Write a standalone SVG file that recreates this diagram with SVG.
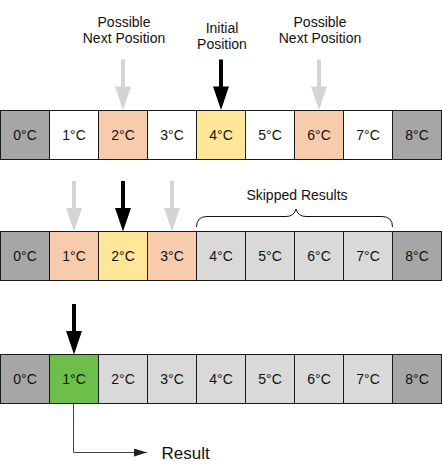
<svg xmlns="http://www.w3.org/2000/svg" width="442" height="466" viewBox="0 0 442 466">
<style>
  text { font-family: "Liberation Sans", Arial, sans-serif; fill: #111; }
  .lbl { font-size: 14px; text-anchor: middle; }
  .cellt { font-size: 14px; text-anchor: middle; }
  rect { stroke: #1a1a1a; stroke-width: 1; }
  .end { fill: #a6a6a6; }
  .wh { fill: #ffffff; }
  .pe { fill: #f8cbad; }
  .ye { fill: #ffe699; }
  .lg { fill: #d9d9d9; }
  .gr { fill: #6cc04a; }
  .garr { fill: #d4d4d4; }
  .barr { fill: #000; }
</style>
<defs>
  <path id="arr" d="M-2,0 H2 V27 H8 L0,50.5 L-8,27 H-2 Z"/>
  <marker id="tri" viewBox="0 0 13 8" refX="13" refY="4" markerWidth="13" markerHeight="8" markerUnits="userSpaceOnUse" orient="auto">
    <path d="M0,0 L13,4 L0,8 Z" fill="#222"/>
  </marker>
</defs>

<g id="labels">
  <text class="lbl" x="124" y="27">Possible</text>
  <text class="lbl" x="124" y="43">Next Position</text>
  <text class="lbl" x="222" y="33">Initial</text>
  <text class="lbl" x="222" y="49">Position</text>
  <text class="lbl" x="320" y="27">Possible</text>
  <text class="lbl" x="320" y="43">Next Position</text>
  <text class="lbl" x="297" y="199.5">Skipped Results</text>
</g>

<g id="row1">
  <g id="r1c0"><rect class="end" x="0.5" y="110.5" width="49" height="49"/><text class="cellt" x="25" y="139.5">0°C</text></g>
  <g id="r1c1"><rect class="wh" x="49.5" y="110.5" width="49" height="49"/><text class="cellt" x="74" y="139.5">1°C</text></g>
  <g id="r1c2"><rect class="pe" x="98.5" y="110.5" width="49" height="49"/><text class="cellt" x="123" y="139.5">2°C</text></g>
  <g id="r1c3"><rect class="wh" x="147.5" y="110.5" width="49" height="49"/><text class="cellt" x="172" y="139.5">3°C</text></g>
  <g id="r1c4"><rect class="ye" x="196.5" y="110.5" width="49" height="49"/><text class="cellt" x="221" y="139.5">4°C</text></g>
  <g id="r1c5"><rect class="wh" x="245.5" y="110.5" width="49" height="49"/><text class="cellt" x="270" y="139.5">5°C</text></g>
  <g id="r1c6"><rect class="pe" x="294.5" y="110.5" width="49" height="49"/><text class="cellt" x="319" y="139.5">6°C</text></g>
  <g id="r1c7"><rect class="wh" x="343.5" y="110.5" width="49" height="49"/><text class="cellt" x="368" y="139.5">7°C</text></g>
  <g id="r1c8"><rect class="end" x="392.5" y="110.5" width="49" height="49"/><text class="cellt" x="417" y="139.5">8°C</text></g>
</g>

<g id="row2">
  <g id="r2c0"><rect class="end" x="0.5" y="231.5" width="49" height="49"/><text class="cellt" x="25" y="261">0°C</text></g>
  <g id="r2c1"><rect class="pe" x="49.5" y="231.5" width="49" height="49"/><text class="cellt" x="74" y="261">1°C</text></g>
  <g id="r2c2"><rect class="ye" x="98.5" y="231.5" width="49" height="49"/><text class="cellt" x="123" y="261">2°C</text></g>
  <g id="r2c3"><rect class="pe" x="147.5" y="231.5" width="49" height="49"/><text class="cellt" x="172" y="261">3°C</text></g>
  <g id="r2c4"><rect class="lg" x="196.5" y="231.5" width="49" height="49"/><text class="cellt" x="221" y="261">4°C</text></g>
  <g id="r2c5"><rect class="lg" x="245.5" y="231.5" width="49" height="49"/><text class="cellt" x="270" y="261">5°C</text></g>
  <g id="r2c6"><rect class="lg" x="294.5" y="231.5" width="49" height="49"/><text class="cellt" x="319" y="261">6°C</text></g>
  <g id="r2c7"><rect class="lg" x="343.5" y="231.5" width="49" height="49"/><text class="cellt" x="368" y="261">7°C</text></g>
  <g id="r2c8"><rect class="end" x="392.5" y="231.5" width="49" height="49"/><text class="cellt" x="417" y="261">8°C</text></g>
</g>

<g id="row3">
  <g id="r3c0"><rect class="end" x="0.5" y="354.5" width="49" height="49"/><text class="cellt" x="25" y="384">0°C</text></g>
  <g id="r3c1"><rect class="gr" x="49.5" y="354.5" width="49" height="49"/><text class="cellt" x="74" y="384">1°C</text></g>
  <g id="r3c2"><rect class="lg" x="98.5" y="354.5" width="49" height="49"/><text class="cellt" x="123" y="384">2°C</text></g>
  <g id="r3c3"><rect class="lg" x="147.5" y="354.5" width="49" height="49"/><text class="cellt" x="172" y="384">3°C</text></g>
  <g id="r3c4"><rect class="lg" x="196.5" y="354.5" width="49" height="49"/><text class="cellt" x="221" y="384">4°C</text></g>
  <g id="r3c5"><rect class="lg" x="245.5" y="354.5" width="49" height="49"/><text class="cellt" x="270" y="384">5°C</text></g>
  <g id="r3c6"><rect class="lg" x="294.5" y="354.5" width="49" height="49"/><text class="cellt" x="319" y="384">6°C</text></g>
  <g id="r3c7"><rect class="lg" x="343.5" y="354.5" width="49" height="49"/><text class="cellt" x="368" y="384">7°C</text></g>
  <g id="r3c8"><rect class="end" x="392.5" y="354.5" width="49" height="49"/><text class="cellt" x="417" y="384">8°C</text></g>
</g>

<g id="connectors">
  <use href="#arr" class="garr" x="123" y="59.5"/>
  <use href="#arr" class="barr" x="221" y="59.5"/>
  <use href="#arr" class="garr" x="319" y="59.5"/>
  <use href="#arr" class="garr" x="74" y="181"/>
  <use href="#arr" class="barr" x="123" y="181"/>
  <use href="#arr" class="garr" x="172" y="181"/>
  <use href="#arr" class="barr" x="74" y="304"/>
  <path d="M196.5,227 Q196.5,216.5 207,216.5 L286,216.5 Q294,216.5 296,209 Q298,216.5 306,216.5 L382,216.5 Q392.5,216.5 392.5,227" fill="none" stroke="#111" stroke-width="1"/>
  <path d="M73.5,404 V452.5 H147" fill="none" stroke="#444" stroke-width="1" marker-end="url(#tri)"/>
</g>
<text x="161.5" y="459" style="font-size:17px">Result</text>
</svg>
